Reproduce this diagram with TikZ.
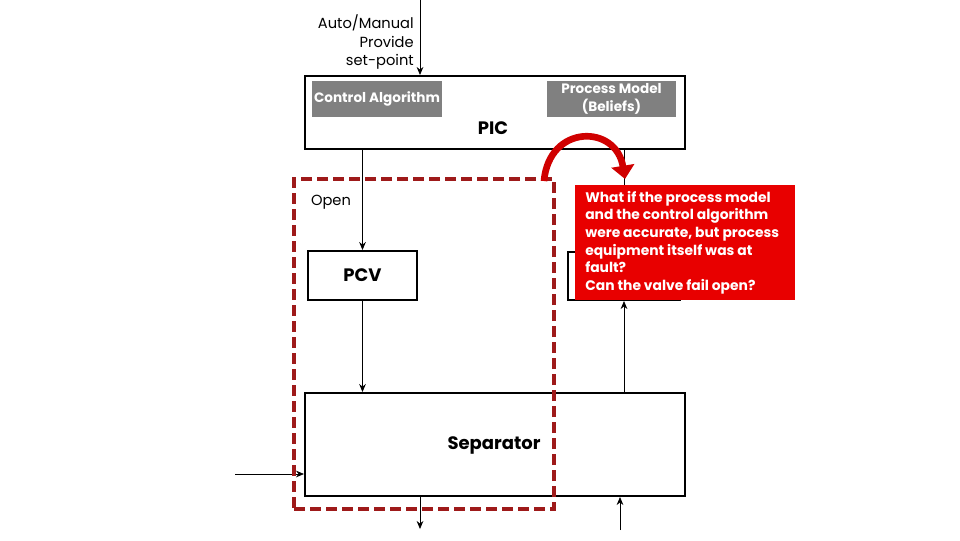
\documentclass[tikz,border=0pt]{standalone}
\usepackage{fontspec}
\setmainfont{Poppins}
\usetikzlibrary{arrows.meta}
\definecolor{gboxc}{HTML}{808080}
\definecolor{dashred}{HTML}{9E1A1A}
\definecolor{callred}{HTML}{E80000}
\definecolor{arcred}{HTML}{D00000}
\tikzset{
  blk/.style={draw=black, line width=1.5pt, inner sep=0pt},
  gbox/.style={fill=gboxc, text=white, inner sep=0pt, font=\fontsize{10.2}{13.5}\selectfont\bfseries, align=center},
  flow/.style={-{Stealth[length=6pt,width=5pt]}, line width=0.6pt},
  lbl/.style={font=\fontsize{11}{14}\selectfont, inner sep=0pt},
  big/.style={font=\fontsize{13.5}{16}\selectfont\bfseries}
}
\begin{document}
\begin{tikzpicture}[x=0.75pt,y=-0.75pt]
\useasboundingbox (0,0) rectangle (960,540);
% PIC
\node[blk, minimum width=380*0.75pt, minimum height=73*0.75pt] (pic) at (495,112.5) {};
\node[gbox, minimum width=130*0.75pt, minimum height=36*0.75pt] (ca) at (377,99) {Control Algorithm};
\node[gbox, minimum width=129*0.75pt, minimum height=36*0.75pt] (pm) at (611.5,99) {Process Model\\(Beliefs)};
\node[big] (pictxt) at (493,128) {PIC};
% PCV
\node[blk, minimum width=109*0.75pt, minimum height=49*0.75pt, big] (pcv) at (362.5,275.5) {PCV};
% Separator
\node[blk, minimum width=380*0.75pt, minimum height=103*0.75pt] (sep) at (495,444.5) {};
\node[big] (septxt) at (494,445) {Separator};
% hidden sensor box
\node[blk, minimum width=112*0.75pt, minimum height=48*0.75pt] (pt) at (624,276) {};
% set-point input
\coordinate (sptop) at (420,0);
\draw[flow] (sptop) -- (sptop |- pic.north);
\node[lbl, anchor=east, align=right] (sp) at (414,42) {Auto/Manual\\Provide\\set-point};
% PIC -> PCV
\draw[flow] (pcv.north |- pic.south) -- (pcv.north);
\node[lbl] (open) at (331,202) {Open};
% PCV -> Separator
\draw[flow] (pcv.south) -- (pcv.south |- sep.north);
% left inlet
\coordinate (inl) at (235,474);
\draw[flow] (inl) -- (inl -| sep.west);
% bottom outlet
\coordinate (outb) at (420,529);
\draw[flow] (outb |- sep.south) -- (outb);
% bottom right inlet
\coordinate (inr) at (620,530);
\draw[flow] (inr) -- (inr |- sep.south);
% separator -> sensor
\draw[flow] (pt.south |- sep.north) -- (pt.south);
% sensor -> PIC
\draw[line width=0.6pt] (pt.north) -- (pt.north |- pic.south);
% dashed boundary
\node[draw=dashred, line width=2.8pt, dash pattern=on 8pt off 4pt, minimum width=260*0.75pt, minimum height=330*0.75pt] (bnd) at (424,344) {};
% callout
\node[fill=callred, text=white, minimum width=220*0.75pt, minimum height=115*0.75pt, inner sep=0pt] (call) at (685,242.5) {};
\node[anchor=north west, text=white, align=left, inner sep=0pt, font=\fontsize{10.4}{13.2}\selectfont\bfseries] (calltxt) at (585,191) {What if the process model\\and the control algorithm\\were accurate, but process\\equipment itself was at\\fault?\\Can the valve fail open?};
% curved arrow
\coordinate (arcs) at (544,181);
\coordinate (arce) at (625,179);
\draw[arcred, line width=5pt, -{Triangle[length=10pt,width=17pt]}] (arcs) .. controls (549,124) and (616,124) .. (arce);
\end{tikzpicture}
\end{document}
